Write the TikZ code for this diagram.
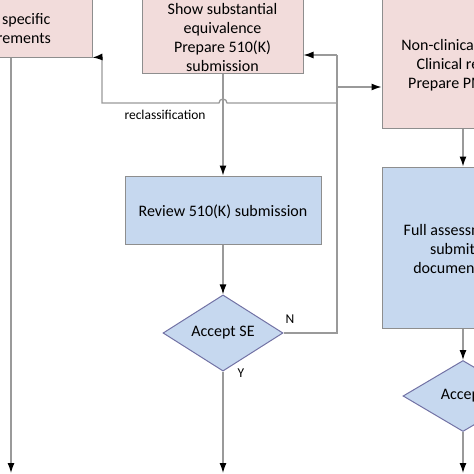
\documentclass[tikz,border=0pt]{standalone}
\usepackage{fontspec}
\setmainfont{Carlito}
\usepackage{tikz}
\usetikzlibrary{arrows.meta,shapes.geometric,positioning,calc}

\definecolor{pinkfill}{HTML}{F2DCDB}
\definecolor{bluefill}{HTML}{C6D8EF}
\definecolor{edgegray}{HTML}{8E8E8E}
\definecolor{linegray}{HTML}{9A9A9A}

\newcommand{\topstrut}{\rule{0pt}{15pt}}

\tikzset{
  prep/.style={draw=edgegray, line width=1pt, fill=pinkfill, align=center, inner sep=0pt},
  review/.style={draw=edgegray, line width=1pt, fill=bluefill, align=center, inner sep=0pt},
  decide/.style={diamond, draw=edgegray!80!blue, line width=1pt, fill=bluefill, align=center, inner sep=0pt,
    minimum width=120pt, minimum height=71pt},
  flow/.style={draw=linegray, line width=1.3pt, -{Latex[length=10pt,width=7pt,color=black]}},
  wire/.style={draw=linegray, line width=1.3pt},
  tag/.style={font=\fontsize{13.5}{16}\selectfont}
}

\begin{document}
\begin{tikzpicture}[x=1pt,y=-1pt,font=\fontsize{16}{19}\selectfont]
    \useasboundingbox (0,0) rectangle (474,474);
    \clip (0,0) rectangle (474,474);

    % top row: preparation
    \node[prep, minimum width=170pt, minimum height=59pt] (spec) at (7,27.5) {\topstrut Meet specific\\requirements};
    \node[prep, minimum width=161pt, minimum height=75pt] (sub) at (222.5,35.5) {\topstrut Show substantial\\equivalence\\Prepare 510(K)\\submission};
    \node[prep, minimum width=162pt, minimum height=130pt] (pma) at (463,63) {\topstrut Non-clinical review\\Clinical review\\Prepare PMA file};

    % review and decision
    \node[review, minimum width=196pt, minimum height=68pt] (rev) at (223,210) {\topstrut Review 510(K) submission};
    \node[decide] (se) at (223,333) {Accept SE};
    \node[review, minimum width=162pt, minimum height=161pt] (full) at (463,247.5) {\topstrut Full assessment of\\submitted\\documentation};
    \node[decide] (acc) at (463,396) {Accept};

    % junctions on the N branch
    \coordinate (nlow) at (337,333);
    \coordinate (ntop) at (337,55);
    \coordinate (nmid) at (337,87);
    \coordinate (nrec) at (337,103);
    \coordinate (rcor) at (102,103);
    \coordinate (rtop) at (102,57);

    % free ends at the bottom
    \coordinate (specend) at (11,473);
    \coordinate (seend) at (223,473);
    \coordinate (accend) at (463,473);

    \draw[flow] (spec.south -| specend) -- (specend);
    \draw[flow] (sub.south -| rev.north) -- (rev.north);
    \draw[flow] (rev.south) -- (se.north);
    \draw[flow] (se.south) -- (seend);
    \node[tag] at (241,373) {Y};

    \draw[wire] (se.east) -- (nlow) -- (ntop);
    \draw[flow] (ntop) -- (ntop -| sub.east);
    \draw[flow] (nmid) -- (nmid -| pma.west);
    \draw[flow] (nrec) -- (227,103) arc[start angle=0, end angle=180, radius=4pt] -- (rcor) -- (rtop) -- (spec.south east);
    \node[tag] at (290,319) {N};
    \node[tag] at (165,115) {reclassification};

    \draw[flow] (pma.south) -- (full.north);
    \draw[flow] (full.south) -- (acc.north);
    \draw[flow] (acc.south) -- (accend);
\end{tikzpicture}
\end{document}
